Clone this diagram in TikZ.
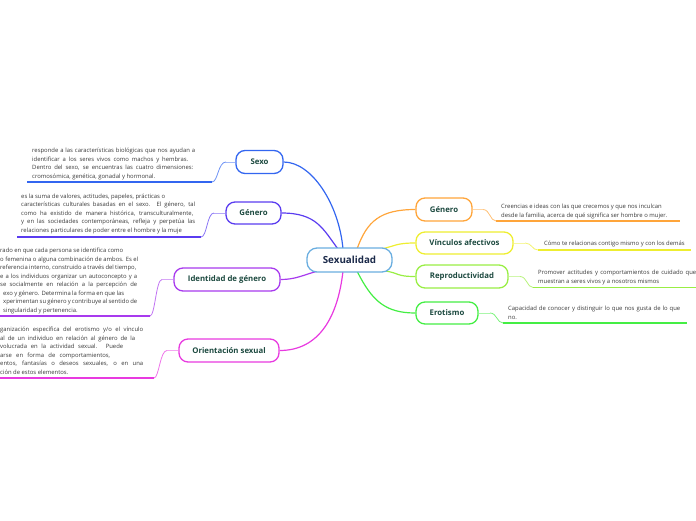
\documentclass[tikz,border=0pt]{standalone}
\usepackage{fontspec}
\setmainfont{Open Sans}
\usetikzlibrary{backgrounds}
\newfontfamily\osans{Open Sans}
\definecolor{bodygray}{HTML}{3A3A3A}
\definecolor{labelc}{HTML}{1D4A40}
\definecolor{centc}{HTML}{1B2A4A}
\definecolor{cCen}{HTML}{6AAEE0}
\definecolor{cSexo}{HTML}{3366F0}
\definecolor{cGenL}{HTML}{5A3CF0}
\definecolor{cIden}{HTML}{A83AEE}
\definecolor{cOrie}{HTML}{E83AE0}
\definecolor{cGenR}{HTML}{FFA53A}
\definecolor{cVinc}{HTML}{EEEE30}
\definecolor{cRepr}{HTML}{99EE44}
\definecolor{cErot}{HTML}{44EE44}
\newcommand{\jline}[2]{\makebox[#1pt][s]{#2}}
\tikzset{
  topic/.style={draw, fill=white, line width=1.3pt, rounded corners=9pt, inner sep=0pt,
    font=\osans\bfseries\fontsize{7.8}{9}\selectfont, text=labelc},
  central/.style={draw=cCen, fill=white, line width=1.3pt, rounded corners=10pt, inner sep=0pt,
    minimum width=85pt, minimum height=24pt, font=\osans\bfseries\fontsize{9.8}{11}\selectfont, text=centc},
  bodytext/.style={anchor=north west, inner sep=0pt, align=left, text=bodygray,
    font=\osans\fontsize{5.9}{8.5}\selectfont},
  mainlink/.style={line width=1.2pt},
  thinlink/.style={line width=0.8pt},
  underl/.style={line width=1.8pt}
}
\begin{document}
\begin{tikzpicture}[x=1pt,y=-1pt]
\useasboundingbox (0,0) rectangle (696,520);
\clip (0,0) rectangle (696,520);

% nodes
\node[central] (cen) at (349.5,260) {Sexualidad};
\node[topic, draw=cSexo, minimum width=47pt, minimum height=23pt] (sexo) at (259.5,162) {Sexo};
\node[topic, draw=cGenL, minimum width=55pt, minimum height=22pt] (genL) at (253.5,213) {Género};
\node[topic, draw=cIden, minimum width=106pt, minimum height=23pt] (iden) at (227,279.5) {Identidad de género};
\node[topic, draw=cOrie, minimum width=100pt, minimum height=23pt] (orie) at (229,350.5) {Orientación sexual};
\node[topic, draw=cGenR, minimum width=56pt, minimum height=23pt] (genR) at (444,209.5) {Género};
\node[topic, draw=cVinc, minimum width=97pt, minimum height=22pt] (vinc) at (464.5,243) {Vínculos afectivos};
\node[topic, draw=cRepr, minimum width=92pt, minimum height=23pt] (repr) at (462,276.5) {Reproductividad};
\node[topic, draw=cErot, minimum width=62pt, minimum height=22pt] (erot) at (447,313) {Erotismo};

% coordinates on the central node
\coordinate (cSx) at (343,249);
\coordinate (cGl) at (338,249);
\coordinate (cId) at (318,271);
\coordinate (cOr) at (343,271);
\coordinate (cGr) at (357,249);
\coordinate (cVi) at (381,249);
\coordinate (cRe) at (385,271);
\coordinate (cEr) at (357,271);

% text connector points
\coordinate (sxA) at (226,162);   \coordinate (sxB) at (212,182);   \coordinate (sxC) at (27,182);
\coordinate (glA) at (214,213);   \coordinate (glB) at (201,237);   \coordinate (glC) at (17,237);
\coordinate (idA) at (162,279.5); \coordinate (idB) at (150,316);   \coordinate (idC) at (0,316);
\coordinate (orA) at (167,350.5); \coordinate (orB) at (154,378);   \coordinate (orC) at (0,378);
\coordinate (grA) at (483,209.5); \coordinate (grB) at (496,221);   \coordinate (grC) at (680,221);
\coordinate (viA) at (525,243);   \coordinate (viB) at (538,250);   \coordinate (viC) at (691,250);
\coordinate (reA) at (520,276.5); \coordinate (reB) at (533,287.5); \coordinate (reC) at (696,287.5);
\coordinate (erA) at (490,313);   \coordinate (erB) at (503,323);   \coordinate (erC) at (687,323);

\begin{scope}[on background layer]
% main connectors
\draw[mainlink, cSexo] (sexo.east) .. controls +(28,0) and +(-4,-45) .. (cSx);
\draw[mainlink, cGenL] (genL.east) .. controls +(35,0) and +(-15,-20) .. (cGl);
\draw[mainlink, cIden] (iden.east) .. controls +(15,0) and +(-15,4) .. (cId);
\draw[mainlink, cOrie] (orie.east) .. controls +(40,0) and +(-5,45) .. (cOr);
\draw[mainlink, cGenR] (cGr) .. controls +(10,-28) and +(-35,0) .. (genR.west);
\draw[mainlink, cVinc] (cVi) .. controls +(15,-3) and +(-20,0) .. (vinc.west);
\draw[mainlink, cRepr] (cRe) .. controls +(15,2) and +(-20,0) .. (repr.west);
\draw[mainlink, cErot] (cEr) .. controls +(15,30) and +(-30,0) .. (erot.west);
\end{scope}

% text connectors
\draw[thinlink, cSexo!45] (sexo.west) -- (sxA);
\draw[thinlink, cSexo!70] (sxA) .. controls +(-8,0) and +(6,0) .. (sxB);
\draw[underl, cSexo] (sxB) -- (sxC);
\draw[thinlink, cGenL!45] (genL.west) -- (glA);
\draw[thinlink, cGenL!70] (glA) .. controls +(-7,0) and +(6,0) .. (glB);
\draw[underl, cGenL] (glB) -- (glC);
\draw[thinlink, cIden!45] (iden.west) -- (idA);
\draw[thinlink, cIden!70] (idA) .. controls +(-6,0) and +(5,0) .. (idB);
\draw[underl, cIden] (idB) -- (idC);
\draw[thinlink, cOrie!45] (orie.west) -- (orA);
\draw[thinlink, cOrie!70] (orA) .. controls +(-7,0) and +(5,0) .. (orB);
\draw[underl, cOrie] (orB) -- (orC);
\draw[thinlink, cGenR!45] (genR.east) -- (grA);
\draw[thinlink, cGenR!70] (grA) .. controls +(7,0) and +(-6,0) .. (grB);
\draw[underl, cGenR] (grB) -- (grC);
\draw[thinlink, cVinc!45] (vinc.east) -- (viA);
\draw[thinlink, cVinc!70] (viA) .. controls +(7,0) and +(-6,0) .. (viB);
\draw[underl, cVinc] (viB) -- (viC);
\draw[thinlink, cRepr!45] (repr.east) -- (reA);
\draw[thinlink, cRepr!70] (reA) .. controls +(7,0) and +(-6,0) .. (reB);
\draw[underl, cRepr] (reB) -- (reC);
\draw[thinlink, cErot!45] (erot.east) -- (erA);
\draw[thinlink, cErot!70] (erA) .. controls +(7,0) and +(-6,0) .. (erB);
\draw[underl, cErot] (erB) -- (erC);

% texts
\node[bodytext] (tSexo) at (32,148) {%
\jline{163}{responde a las características biológicas que nos ayudan a}\\
\jline{156}{identificar a los seres vivos como machos y hembras.}\\
\jline{161}{Dentro del sexo, se encuentras las cuatro dimensiones:}\\
cromosómica, genética, gonadal y hormonal.};

\node[bodytext] (tGenL) at (21,193.5) {%
es la suma de valores, actitudes, papeles, prácticas o\\
\jline{174}{características culturales basadas en el sexo. El género, tal}\\
\jline{172}{como ha existido de manera histórica, transculturalmente,}\\
\jline{174}{y en las sociedades contemporáneas, refleja y perpetúa las}\\
relaciones particulares de poder entre el hombre y la muje};

\node[bodytext] (tIden) at (0,248) {%
\jline{123}{rado en que cada persona se identifica como}\\
\jline{138}{o femenina o alguna combinación de ambos. Es el}\\
\jline{136}{referencia interno, construido a través del tiempo,}\\
\jline{137}{e a los individuos organizar un autoconcepto y a}\\
\jline{137}{se socialmente en relación a la percepción de}\\
\hspace{3pt}\jline{121}{exo y género. Determina la forma en que las}\\
\hspace{3pt}\jline{134}{xperimentan su género y contribuye al sentido de}\\
\hspace{3pt}singularidad y pertenencia.};

\node[bodytext] (tOrie) at (0,327) {%
\jline{143}{ganización específica del erotismo y/o el vínculo}\\
\jline{135}{al de un individuo en relación al género de la}\\
\jline{123}{volucrada en la actividad sexual. Puede}\\
\jline{110}{arse en forma de comportamientos,}\\
\jline{143}{entos, fantasías o deseos sexuales, o en una}\\
ción de estos elementos.};

\node[bodytext] (tGenR) at (501,204) {%
Creencias e ideas con las que crecemos y que nos inculcan\\
desde la familia, acerca de qué significa ser hombre o mujer.};

\node[bodytext] (tVinc) at (544,241) {Cómo te relacionas contigo mismo y con los demás};

\node[bodytext] (tRepr) at (538,270) {%
\jline{158}{Promover actitudes y comportamientos de cuidado que}\\
muestran a seres vivos y a nosotros mismos};

\node[bodytext] (tErot) at (508,306) {%
\jline{172}{Capacidad de conocer y distinguir lo que nos gusta de lo que}\\
no.};
\end{tikzpicture}
\end{document}
